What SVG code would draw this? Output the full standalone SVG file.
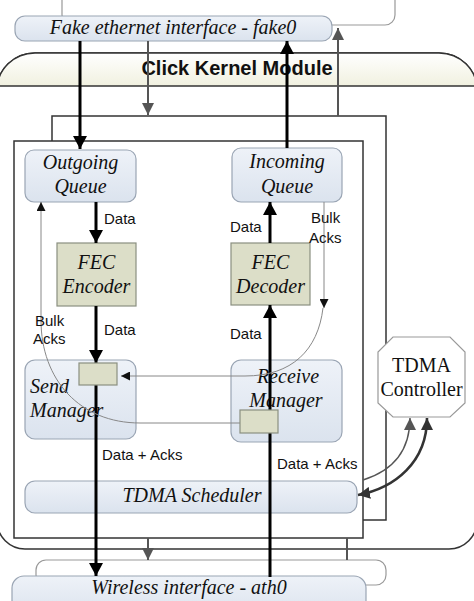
<svg xmlns="http://www.w3.org/2000/svg" width="474" height="601" viewBox="0 0 474 601">
<defs>
<linearGradient id="blue" x1="0" y1="0" x2="0" y2="1"><stop offset="0" stop-color="#eef2f8"/><stop offset="1" stop-color="#dbe3ee"/></linearGradient>
<linearGradient id="cream" x1="0" y1="0" x2="0" y2="1"><stop offset="0" stop-color="#ffffff"/><stop offset="1" stop-color="#efefdc"/></linearGradient>
<marker id="hBlack" markerUnits="userSpaceOnUse" markerWidth="14" markerHeight="14" viewBox="0 0 14 14" refX="13" refY="7" orient="auto"><path d="M0,0 L13,7 L0,14 Z" fill="#000"/></marker>
<marker id="hGray" markerUnits="userSpaceOnUse" markerWidth="13" markerHeight="12" viewBox="0 0 13 12" refX="12" refY="6" orient="auto"><path d="M0,0 L12,6 L0,12 Z" fill="#555"/></marker>
<marker id="hThin" markerUnits="userSpaceOnUse" markerWidth="10" markerHeight="9" viewBox="0 0 10 9" refX="9" refY="4.5" orient="auto"><path d="M0,0 L9,4.5 L0,9 Z" fill="#111"/></marker>
<marker id="hDark" markerUnits="userSpaceOnUse" markerWidth="13" markerHeight="12" viewBox="0 0 13 12" refX="12" refY="6" orient="auto-start-reverse"><path d="M0,0 L12,6 L0,12 Z" fill="#333"/></marker>
</defs>
<style>
.ser{font-family:"Liberation Serif","Times New Roman",serif;font-size:20px;fill:#111}
.it{font-style:italic}
.san{font-family:"Liberation Sans",Arial,sans-serif;font-size:15px;fill:#111}
.bx{fill:url(#blue);stroke:#9aa5b4;stroke-width:1.2}
.fec{fill:#dcdec8;stroke:#8a8f80;stroke-width:1.2}
.frame{fill:#fff;stroke:#333;stroke-width:1.5}
.back{fill:#fff;stroke:#999;stroke-width:1.2}
.thick{fill:none;stroke:#000;stroke-width:3}
.gray{fill:none;stroke:#555;stroke-width:2}
.thin{fill:none;stroke:#888;stroke-width:1}
</style>

<g id="fake0-back"><rect class="back" x="62" y="-20" width="333" height="45" rx="10"/></g>
<g id="fake0">
<rect class="bx" x="15" y="16" width="317" height="25" rx="10"/>
<text class="ser it" x="173" y="34" text-anchor="middle">Fake ethernet interface - fake0</text>
</g>

<g id="click-module">
<path d="M-3,90 A38,37 0 0 1 35,53 H439 A38,37 0 0 1 477,90 V521 A28,28 0 0 1 449,549 H25 A28,28 0 0 1 -3,521 Z" fill="#fff" stroke="#333" stroke-width="1.5"/>
<path d="M-3,86 V90 A38,37 0 0 1 35,53 H439 A38,37 0 0 1 477,90 V86 Z" fill="url(#cream)" stroke="none"/>
<path d="M-3,90 A38,37 0 0 1 35,53 H439 A38,37 0 0 1 477,90" fill="none" stroke="#333" stroke-width="1.5"/>
<line x1="0" y1="86" x2="474" y2="86" stroke="#333" stroke-width="1.5"/>
<text x="237" y="75" text-anchor="middle" font-family="Liberation Sans, Arial, sans-serif" font-size="20" font-weight="bold" fill="#111">Click Kernel Module</text>
</g>

<g id="back-frame"><rect class="frame" x="52" y="116" width="334" height="404"/></g>
<g id="front-frame"><rect class="frame" x="14" y="141" width="349" height="397"/></g>

<g id="outgoing-queue">
<rect class="bx" x="25" y="150" width="111" height="52" rx="9"/>
<text class="ser it" x="80.5" y="169" text-anchor="middle">Outgoing</text>
<text class="ser it" x="80.5" y="193" text-anchor="middle">Queue</text>
</g>
<g id="incoming-queue">
<rect class="bx" x="232" y="148" width="110" height="54" rx="9"/>
<text class="ser it" x="287" y="168" text-anchor="middle">Incoming</text>
<text class="ser it" x="287" y="193" text-anchor="middle">Queue</text>
</g>
<g id="fec-encoder">
<rect class="fec" x="57" y="243" width="79" height="63"/>
<text class="ser it" x="96.5" y="269" text-anchor="middle">FEC</text>
<text class="ser it" x="96.5" y="293" text-anchor="middle">Encoder</text>
</g>
<g id="fec-decoder">
<rect class="fec" x="231" y="243" width="79" height="62"/>
<text class="ser it" x="270.5" y="269" text-anchor="middle">FEC</text>
<text class="ser it" x="270.5" y="293" text-anchor="middle">Decoder</text>
</g>
<g id="send-manager">
<rect class="bx" x="25" y="360" width="111" height="79" rx="10"/>
<text class="ser it" x="30" y="393">Send</text>
<text class="ser it" x="30" y="417">Manager</text>
</g>
<g id="receive-manager">
<rect class="bx" x="231" y="360" width="111" height="82" rx="10"/>
<text class="ser it" x="288" y="383" text-anchor="middle">Receive</text>
<text class="ser it" x="286" y="407" text-anchor="middle">Manager</text>
</g>
<g id="tdma-scheduler">
<rect class="bx" x="25" y="481" width="332" height="32" rx="10"/>
<text class="ser it" x="192" y="502" text-anchor="middle">TDMA Scheduler</text>
</g>
<g id="tdma-controller">
<polygon points="393,337 450,337 465,352 465,403 450,417 393,417 378,403 378,352" fill="#fff" stroke="#999" stroke-width="1.2"/>
<text class="ser" x="421.5" y="372" text-anchor="middle">TDMA</text>
<text class="ser" x="421.5" y="396" text-anchor="middle">Controller</text>
</g>
<g id="wireless-back"><rect class="back" x="36" y="560" width="350" height="25" rx="10"/></g>
<g id="wireless">
<rect class="bx" x="12" y="576" width="354" height="40" rx="12"/>
<text class="ser it" x="189" y="594" text-anchor="middle">Wireless interface - ath0</text>
</g>

<g id="connectors">
<line class="thick" x1="80" y1="41" x2="80" y2="149" marker-end="url(#hBlack)"/>
<line class="thick" x1="287" y1="148" x2="287" y2="41" marker-end="url(#hBlack)"/>
<line class="gray" x1="148" y1="41" x2="148" y2="115" marker-end="url(#hGray)"/>
<line class="gray" x1="338" y1="116" x2="338" y2="28" marker-end="url(#hGray)"/>
<line class="thick" x1="96" y1="202" x2="96" y2="243" marker-end="url(#hBlack)"/>
<line class="thick" x1="270" y1="243" x2="270" y2="202" marker-end="url(#hBlack)"/>
<line class="thick" x1="96" y1="306" x2="96" y2="363" marker-end="url(#hBlack)"/>
<line class="thick" x1="96" y1="385" x2="96" y2="576" marker-end="url(#hBlack)"/>
<line class="thick" x1="270" y1="577" x2="270" y2="305" marker-end="url(#hBlack)"/>
<line class="thin" x1="324" y1="202" x2="324" y2="308" marker-end="url(#hThin)"/>
<path class="thin" d="M323,308 C318,350 292,376 245,376 L121,376" marker-end="url(#hThin)"/>
<path class="thin" d="M240,423 L140,423 C80,423 41,380 41,320 L41,202" marker-end="url(#hThin)"/>
<path d="M363,480 C395,470 410,448 410,418" fill="none" stroke="#555" stroke-width="1.4" marker-end="url(#hGray)"/>
<path d="M358,495 C395,488 427,462 427,418" fill="none" stroke="#333" stroke-width="2.6" marker-start="url(#hDark)" marker-end="url(#hDark)"/>
<line class="gray" x1="148" y1="538" x2="148" y2="560" marker-end="url(#hGray)"/>
<line class="gray" x1="347" y1="538" x2="347" y2="560"/>
</g>

<g id="ports">
<rect class="fec" x="79" y="363" width="38" height="22"/>
<rect class="fec" x="240" y="410" width="38" height="23"/>
</g>

<g id="labels">
<text class="san" x="104" y="224">Data</text>
<text class="san" x="230" y="232">Data</text>
<text class="san" x="311" y="223">Bulk</text>
<text class="san" x="309" y="243">Acks</text>
<text class="san" x="104" y="335">Data</text>
<text class="san" x="230" y="339">Data</text>
<text class="san" x="35" y="326">Bulk</text>
<text class="san" x="33" y="344">Acks</text>
<text class="san" x="102" y="460">Data + Acks</text>
<text class="san" x="277" y="469">Data + Acks</text>
</g>
</svg>
